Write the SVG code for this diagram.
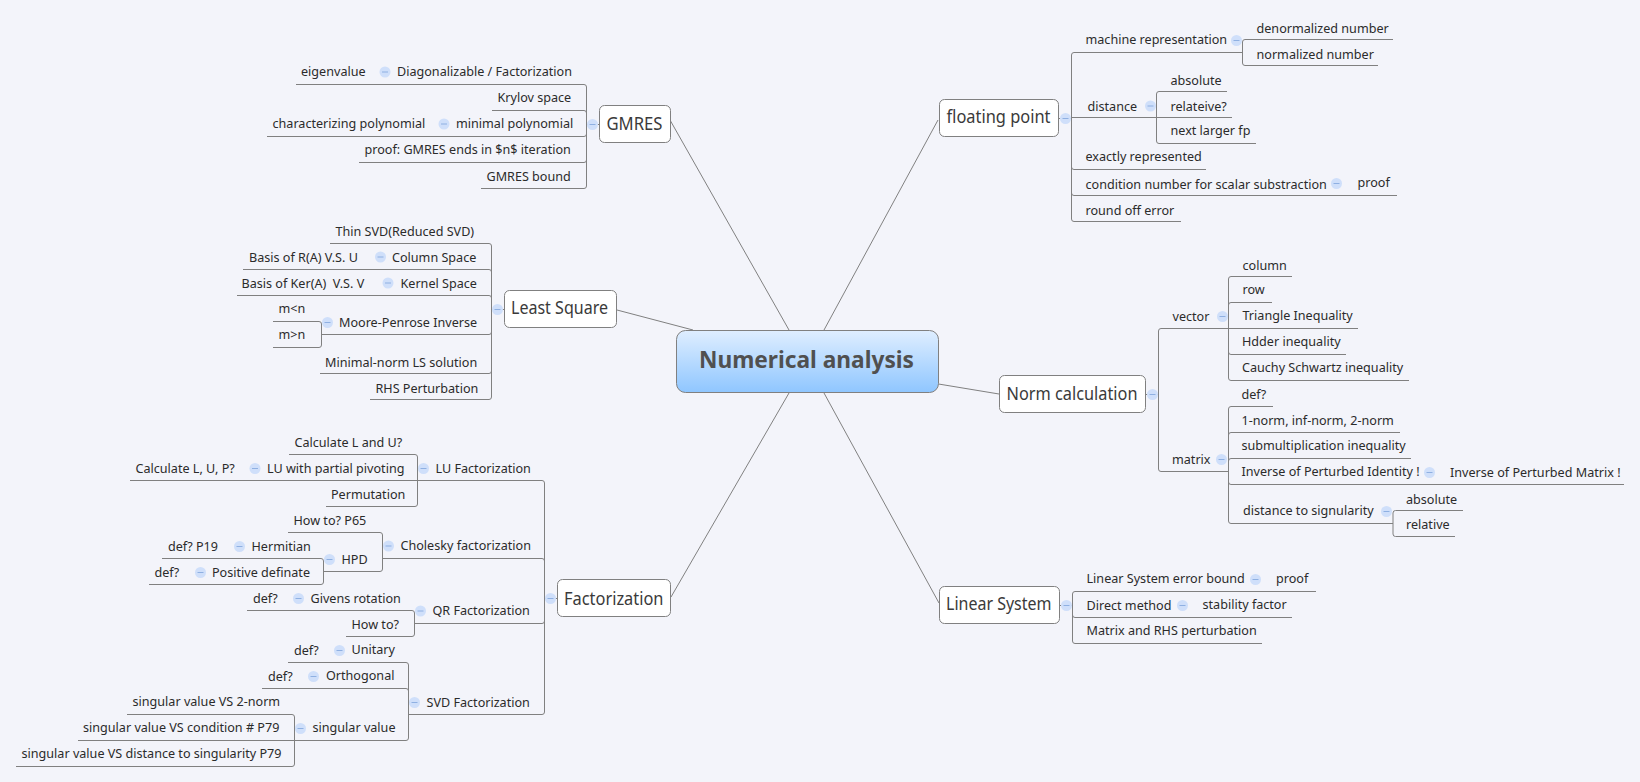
<svg xmlns="http://www.w3.org/2000/svg" width="1640" height="782" viewBox="0 0 1640 782">
<style>
.c{fill:none;stroke:#808080;stroke-width:1}
text{font-family:"Noto Sans","Open Sans","Liberation Sans",sans-serif;fill:#2b2b2b;font-size:12.6px}
.b{fill:#fff;stroke:#808080;stroke-width:1}
.m{font-size:17.5px;fill:#3a3a3a}
.r{font-size:24px;font-weight:700;fill:#505050}
</style>
<defs>
<linearGradient id="g" x1="0" y1="0" x2="0" y2="1"><stop offset="0" stop-color="#dfeeff"/><stop offset="1" stop-color="#8fc6ff"/></linearGradient>
<g id="k"><circle r="5.5" fill="#cfdffa"/><path d="M-3 0H3" stroke="#8fb0e2" stroke-width="1"/></g>
</defs>
<rect width="1640" height="782" fill="#f3f4fa"/>
<g id="connectors">
<path class="c" d="M670 120L789 330M938 120L824 330M671 597L789 393M939 603L824 393M617 310L693 330M938.500 384L999 394"/>
<path class="c" d="M296 84.500H584Q586.500 84.500 586.500 87V186Q586.500 188.500 584 188.500H481M492 110.500H584Q586.500 110.500 586.500 113M267 136.500H584Q586.500 136.500 586.500 134M359 162.500H584Q586.500 162.500 586.500 160M586.500 124.500H599"/>
<path class="c" d="M330 243.500H489Q491.500 243.500 491.500 246V397Q491.500 399.500 489 399.500H370M243 269.500H489Q491.500 269.500 491.500 272M237 295.500H489Q491.500 295.500 491.500 298M321.500 334.500H489Q491.500 334.500 491.500 332M320 373.500H489Q491.500 373.500 491.500 371M491.500 309.500H504"/>
<path class="c" d="M273 321.500H319Q321.500 321.500 321.500 324V345Q321.500 347.500 319 347.500H273"/>
<path class="c" d="M289 454.500H415Q417.500 454.500 417.500 457V504Q417.500 506.500 415 506.500H326M130 480.500H542Q544.500 480.500 544.500 483V712Q544.500 714.500 542 714.500H408M382.500 558.500H542Q544.500 558.500 544.500 561M414.500 623.500H542Q544.500 623.500 544.500 621M544.500 598.500H557"/>
<path class="c" d="M288 532.500H380Q382.500 532.500 382.500 535V569Q382.500 571.500 380 571.500H323.500"/>
<path class="c" d="M162 558.500H321Q323.500 558.500 323.500 561V582Q323.500 584.500 321 584.500H149"/>
<path class="c" d="M247 610.500H412Q414.500 610.500 414.500 613V634Q414.500 636.500 412 636.500H346"/>
<path class="c" d="M288 662.500H406Q408.500 662.500 408.500 665V738Q408.500 740.500 406 740.500H78M262 688.500H406Q408.500 688.500 408.500 691"/>
<path class="c" d="M127 714.500H292Q294.500 714.500 294.500 717V764Q294.500 766.500 292 766.500H16"/>
<path class="c" d="M1059 118.500H1071.500M1230 52.500H1074Q1071.500 52.500 1071.500 55V219Q1071.500 221.500 1074 221.500H1181M1071.500 117.500H1157M1074 169.500H1206M1074 195.500H1397M1071.500 167Q1071.500 169.500 1074 169.500M1071.500 193Q1071.500 195.500 1074 195.500M1230 52.500H1242.500"/>
<path class="c" d="M1393 39.500H1245Q1242.500 39.500 1242.500 42V63Q1242.500 65.500 1245 65.500H1378"/>
<path class="c" d="M1227 91.500H1159Q1156.500 91.500 1156.500 94V141Q1156.500 143.500 1159 143.500H1256M1156.500 117.500H1232"/>
<path class="c" d="M1145.500 394.500H1158.500M1358 328.500H1161Q1158.500 328.500 1158.500 331V469Q1158.500 471.500 1161 471.500H1228.500"/>
<path class="c" d="M1292 276.500H1231Q1228.500 276.500 1228.500 279V378Q1228.500 380.500 1231 380.500H1409M1272 302.500H1231Q1228.500 302.500 1228.500 305M1346 354.500H1231Q1228.500 354.500 1228.500 352"/>
<path class="c" d="M1273 406.500H1231Q1228.500 406.500 1228.500 409V521Q1228.500 523.500 1231 523.500H1393M1400 432.500H1231Q1228.500 432.500 1228.500 435M1411 458.500H1231Q1228.500 458.500 1228.500 461M1624 484.500H1231Q1228.500 484.500 1228.500 482"/>
<path class="c" d="M1463 510.500H1395.500Q1393 510.500 1393 513V534Q1393 536.500 1395.500 536.500H1455"/>
<path class="c" d="M1059.500 605.500H1072.500M1316 591.500H1075Q1072.500 591.500 1072.500 594V641Q1072.500 643.500 1075 643.500H1262M1292 617.500H1075Q1072.500 617.500 1072.500 615"/>
</g>
<g id="root"><rect x="676.500" y="330.500" width="262" height="62" rx="9" fill="url(#g)" stroke="#808080"/><text class="r" x="699" y="368" textLength="215" lengthAdjust="spacingAndGlyphs">Numerical analysis</text></g>
<g id="gmres"><rect class="b" x="599.500" y="105.500" width="71" height="37" rx="5"/><text class="m" x="606.500" y="130" textLength="56" lengthAdjust="spacingAndGlyphs">GMRES</text><use href="#k" x="592.500" y="124.500"/></g>
<g id="n-diagonalizable"><text x="397" y="76">Diagonalizable / Factorization</text><use href="#k" x="385" y="72"/></g>
<g id="n-eigenvalue"><text x="301" y="76">eigenvalue</text></g>
<g id="n-krylov"><text x="497.500" y="102">Krylov space</text></g>
<g id="n-minimal"><text x="456" y="128">minimal polynomial</text><use href="#k" x="444" y="124"/></g>
<g id="n-characterizing"><text x="272.500" y="128">characterizing polynomial</text></g>
<g id="n-proof-gmres"><text x="364.500" y="154">proof: GMRES ends in $n$ iteration</text></g>
<g id="n-bound"><text x="486.500" y="181">GMRES bound</text></g>
<g id="leastsquare"><rect class="b" x="504.500" y="290.500" width="112" height="37" rx="5"/><text class="m" x="511" y="314" textLength="97" lengthAdjust="spacingAndGlyphs">Least Square</text><use href="#k" x="497.500" y="309.500"/></g>
<g id="n-thin"><text x="335.500" y="236">Thin SVD(Reduced SVD)</text></g>
<g id="n-column"><text x="392" y="262">Column Space</text><use href="#k" x="380.500" y="257"/></g>
<g id="n-basis-r"><text x="249" y="262">Basis of R(A) V.S. U</text></g>
<g id="n-kernel"><text x="400.500" y="288">Kernel Space</text><use href="#k" x="388" y="283"/></g>
<g id="n-basis-ker"><text x="241.500" y="288" xml:space="preserve">Basis of Ker(A)  V.S. V</text></g>
<g id="n-moore"><text x="339" y="327">Moore-Penrose Inverse</text><use href="#k" x="327.500" y="322.500"/></g>
<g id="n-mln"><text x="278.500" y="313">m&lt;n</text></g>
<g id="n-mgn"><text x="278.500" y="339">m&gt;n</text></g>
<g id="n-minimalnorm"><text x="325" y="367">Minimal-norm LS solution</text></g>
<g id="n-rhs"><text x="375.500" y="393">RHS Perturbation</text></g>
<g id="factorization"><rect class="b" x="557.500" y="579.500" width="113" height="37" rx="5"/><text class="m" x="564" y="605" textLength="99.500" lengthAdjust="spacingAndGlyphs">Factorization</text><use href="#k" x="550.500" y="598.500"/></g>
<g id="n-lu"><text x="435.500" y="473">LU Factorization</text><use href="#k" x="423.500" y="468.500"/></g>
<g id="n-calc-lu"><text x="294.500" y="447">Calculate L and U?</text></g>
<g id="n-lupp"><text x="267" y="473">LU with partial pivoting</text><use href="#k" x="255" y="468.500"/></g>
<g id="n-calc-lup"><text x="135.500" y="473">Calculate L, U, P?</text></g>
<g id="n-perm"><text x="331" y="499">Permutation</text></g>
<g id="n-cholesky"><text x="400.500" y="550">Cholesky factorization</text><use href="#k" x="388.500" y="546"/></g>
<g id="n-howto65"><text x="293.500" y="525">How to? P65</text></g>
<g id="n-hpd"><text x="341.500" y="564">HPD</text><use href="#k" x="329.500" y="559.500"/></g>
<g id="n-hermitian"><text x="251.500" y="551">Hermitian</text><use href="#k" x="239.500" y="546.500"/></g>
<g id="n-defp19"><text x="168" y="551">def? P19</text></g>
<g id="n-positive"><text x="212" y="577">Positive definate</text><use href="#k" x="200.500" y="572.500"/></g>
<g id="n-def1"><text x="154.500" y="577">def?</text></g>
<g id="n-qr"><text x="432.500" y="615">QR Factorization</text><use href="#k" x="420.500" y="611"/></g>
<g id="n-givens"><text x="310.500" y="603">Givens rotation</text><use href="#k" x="298.500" y="598.500"/></g>
<g id="n-def2"><text x="253" y="603">def?</text></g>
<g id="n-howto"><text x="351.500" y="629">How to?</text></g>
<g id="n-svd"><text x="426.500" y="707">SVD Factorization</text><use href="#k" x="414.500" y="702.500"/></g>
<g id="n-unitary"><text x="351.500" y="654">Unitary</text><use href="#k" x="339.500" y="650.500"/></g>
<g id="n-def3"><text x="294" y="655">def?</text></g>
<g id="n-orthogonal"><text x="326" y="680">Orthogonal</text><use href="#k" x="313.500" y="676.500"/></g>
<g id="n-def4"><text x="268" y="681">def?</text></g>
<g id="n-singular"><text x="312.500" y="732">singular value</text><use href="#k" x="300.500" y="728.500"/></g>
<g id="n-sv2"><text x="132.500" y="706">singular value VS 2-norm</text></g>
<g id="n-svc"><text x="83" y="732">singular value VS condition # P79</text></g>
<g id="n-svd2"><text x="21.500" y="758">singular value VS distance to singularity P79</text></g>
<g id="floatingpoint"><rect class="b" x="939.500" y="99.500" width="119" height="37" rx="5"/><text class="m" x="946.500" y="123" textLength="104" lengthAdjust="spacingAndGlyphs">floating point</text><use href="#k" x="1065.500" y="118.500"/></g>
<g id="n-machine"><text x="1085.500" y="44">machine representation</text><use href="#k" x="1236.500" y="40.500"/></g>
<g id="n-denorm"><text x="1256.500" y="33">denormalized number</text></g>
<g id="n-norm"><text x="1256.500" y="59">normalized number</text></g>
<g id="n-distance"><text x="1087.500" y="111">distance</text><use href="#k" x="1150.500" y="106"/></g>
<g id="n-absolute"><text x="1170.500" y="85">absolute</text></g>
<g id="n-relateive"><text x="1170.500" y="111">relateive?</text></g>
<g id="n-nextfp"><text x="1170.500" y="135">next larger fp</text></g>
<g id="n-exactly"><text x="1085.500" y="161">exactly represented</text></g>
<g id="n-condition"><text x="1085.500" y="189">condition number for scalar substraction</text><use href="#k" x="1336.500" y="183.500"/></g>
<g id="n-proof1"><text x="1357.500" y="187">proof</text></g>
<g id="n-round"><text x="1085.500" y="215">round off error</text></g>
<g id="normcalculation"><rect class="b" x="999.500" y="375.500" width="146" height="37" rx="5"/><text class="m" x="1006.500" y="400" textLength="131" lengthAdjust="spacingAndGlyphs">Norm calculation</text><use href="#k" x="1152.500" y="394.500"/></g>
<g id="n-vector"><text x="1172.500" y="321">vector</text><use href="#k" x="1222.500" y="316.500"/></g>
<g id="n-col"><text x="1242.500" y="270">column</text></g>
<g id="n-row"><text x="1242.500" y="294">row</text></g>
<g id="n-triangle"><text x="1242.500" y="320">Triangle Inequality</text></g>
<g id="n-hdder"><text x="1242" y="346">Hdder inequality</text></g>
<g id="n-cauchy"><text x="1242" y="372">Cauchy Schwartz inequality</text></g>
<g id="n-matrix"><text x="1172" y="464">matrix</text><use href="#k" x="1221.500" y="459.500"/></g>
<g id="n-def5"><text x="1241.500" y="399">def?</text></g>
<g id="n-norms"><text x="1241.500" y="425">1-norm, inf-norm, 2-norm</text></g>
<g id="n-submult"><text x="1241.500" y="450">submultiplication inequality</text></g>
<g id="n-inv-id"><text x="1241.500" y="476">Inverse of Perturbed Identity !</text><use href="#k" x="1429.500" y="472.500"/></g>
<g id="n-inv-m"><text x="1450" y="477">Inverse of Perturbed Matrix !</text></g>
<g id="n-dist-sing"><text x="1243" y="515">distance to signularity</text><use href="#k" x="1386.500" y="511.500"/></g>
<g id="n-abs2"><text x="1406" y="504">absolute</text></g>
<g id="n-rel"><text x="1406" y="529">relative</text></g>
<g id="linearsystem"><rect class="b" x="939.500" y="586.500" width="120" height="37" rx="5"/><text class="m" x="946" y="610" textLength="105.500" lengthAdjust="spacingAndGlyphs">Linear System</text><use href="#k" x="1066.500" y="605.500"/></g>
<g id="n-errbound"><text x="1086.500" y="583">Linear System error bound</text><use href="#k" x="1255.500" y="579.500"/></g>
<g id="n-proof2"><text x="1276" y="583">proof</text></g>
<g id="n-direct"><text x="1086.500" y="610">Direct method</text><use href="#k" x="1182.500" y="605.500"/></g>
<g id="n-stability"><text x="1202.500" y="609">stability factor</text></g>
<g id="n-mrhs"><text x="1086.500" y="635">Matrix and RHS perturbation</text></g>
</svg>
